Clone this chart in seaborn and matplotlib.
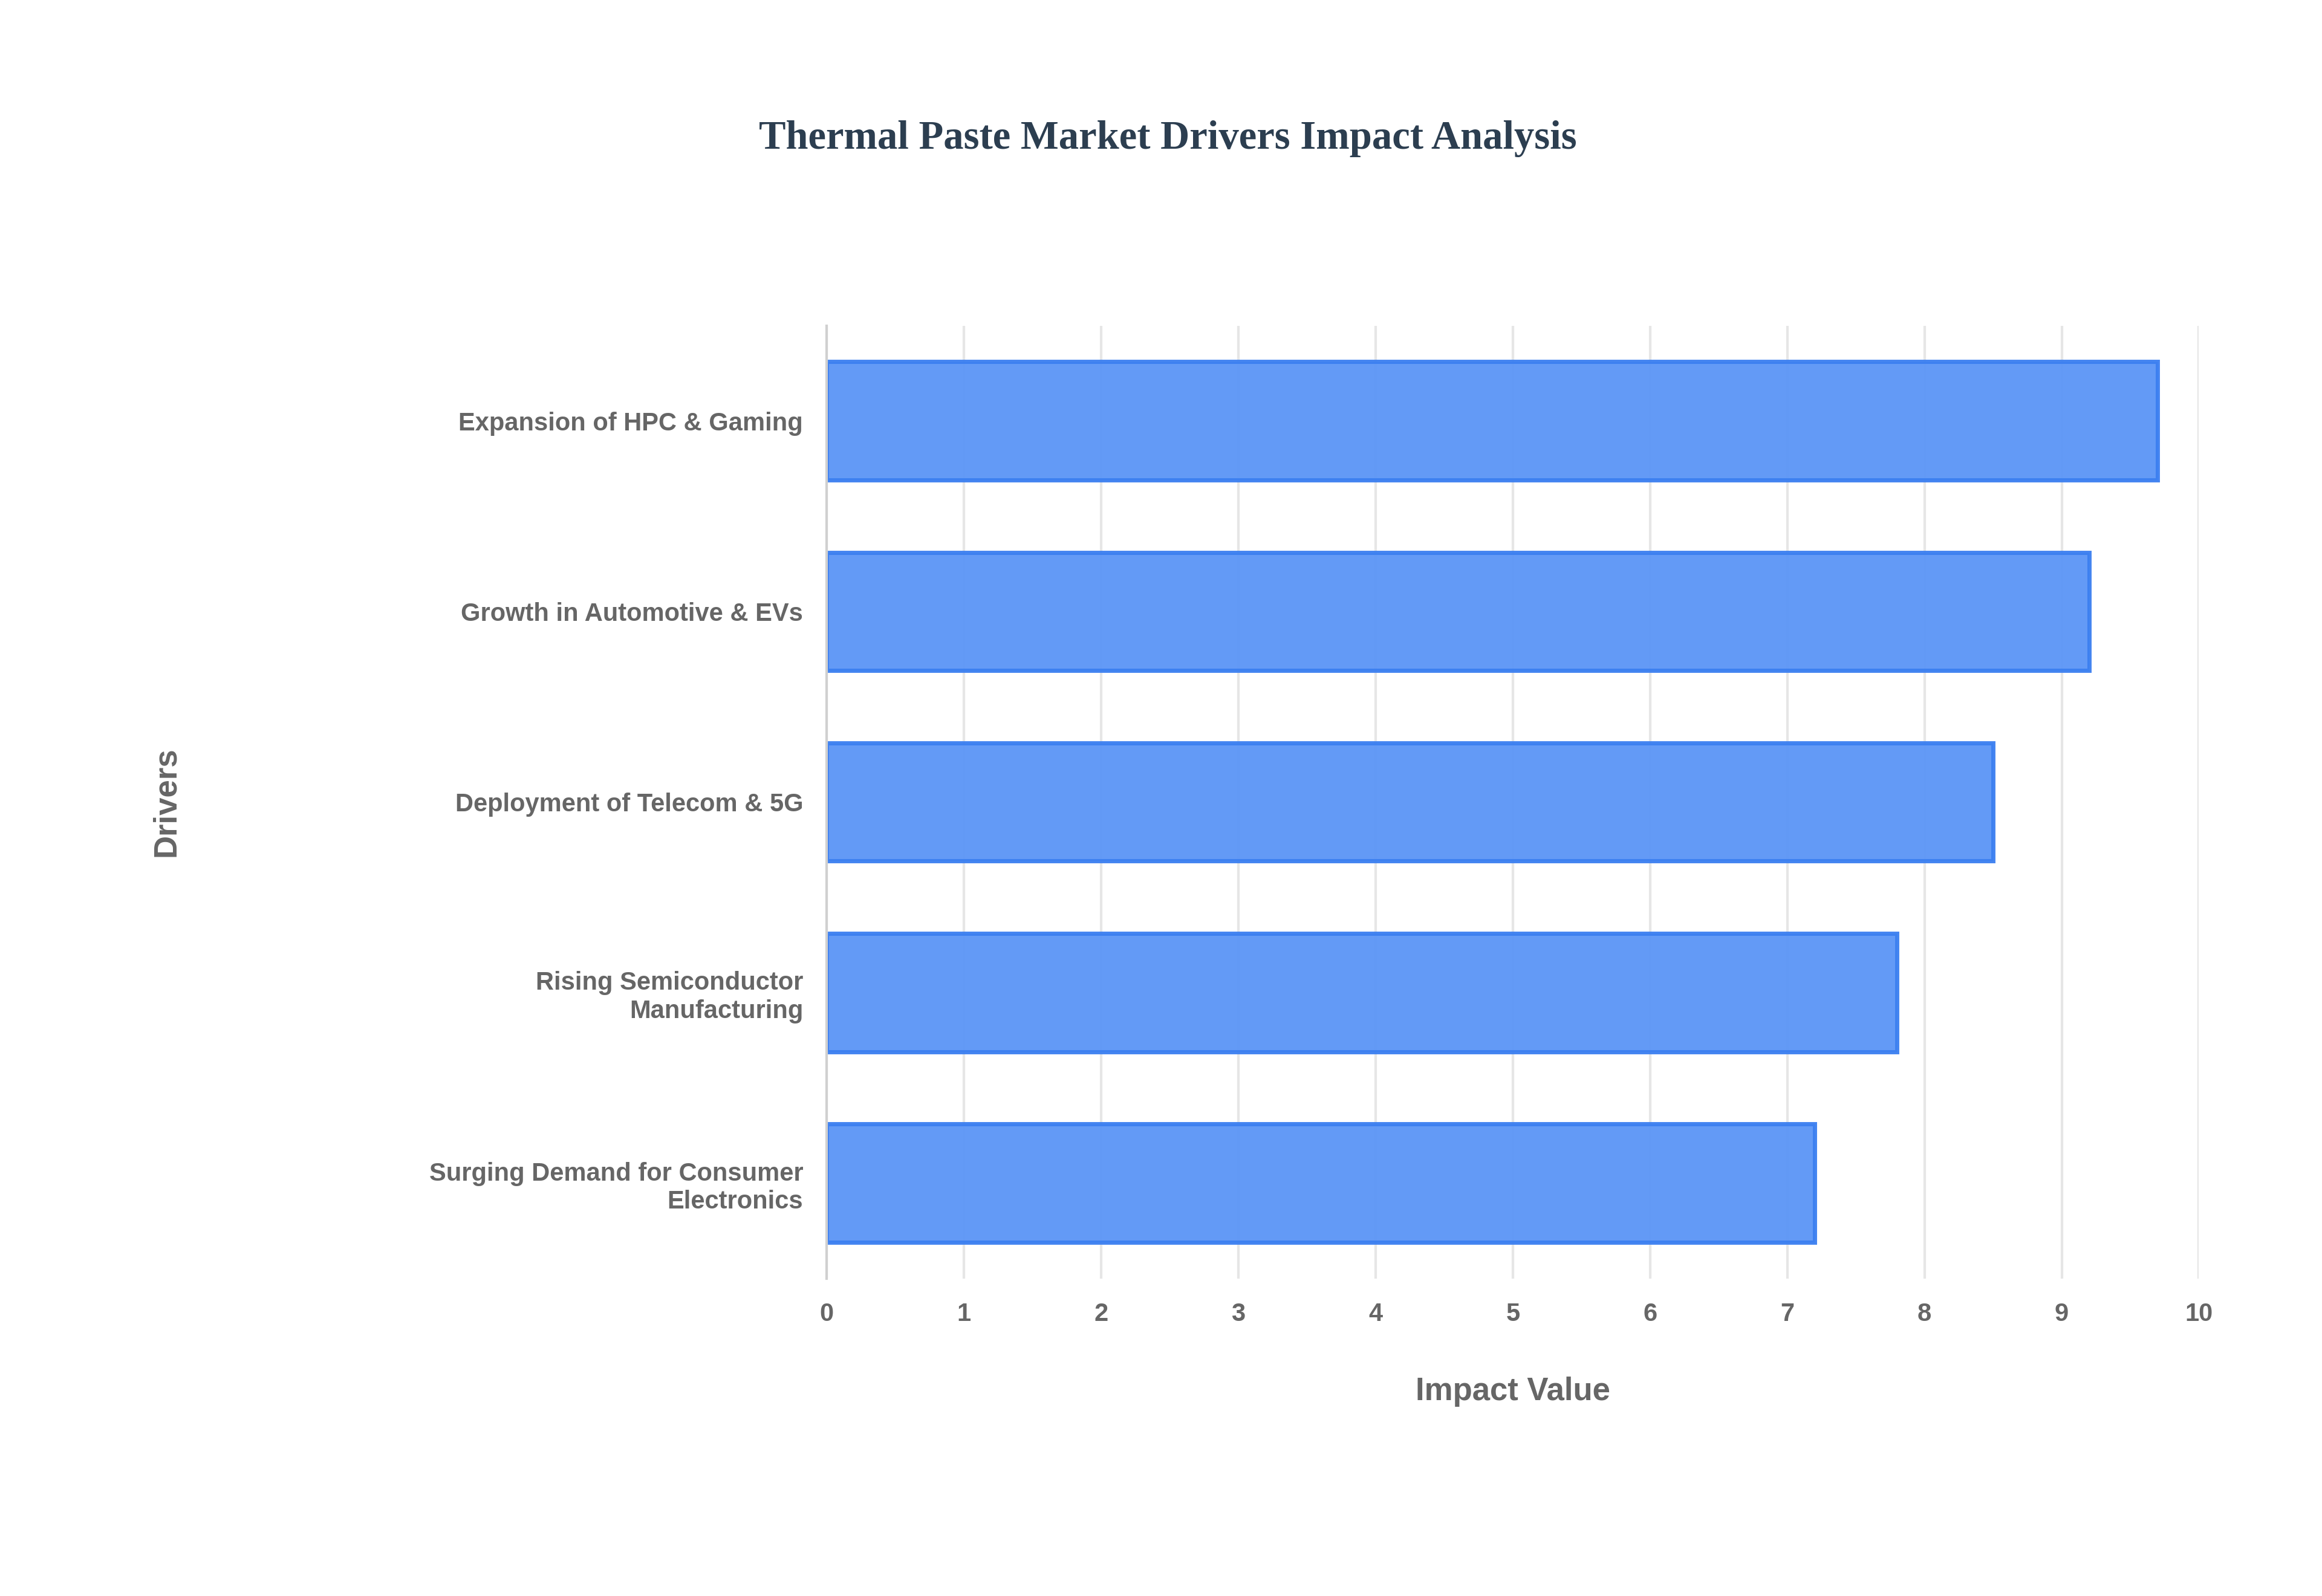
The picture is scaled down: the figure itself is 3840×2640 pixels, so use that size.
import seaborn as sns
import matplotlib.pyplot as plt
import pandas as pd

drivers = ['Expansion of HPC & Gaming', 'Growth in Automotive & EVs', 'Deployment of Telecom & 5G',
           'Rising Semiconductor\nManufacturing', 'Surging Demand for Consumer\nElectronics']
impact = [9.7, 9.2, 8.5, 7.8, 7.2]

df = pd.DataFrame({'Drivers': drivers, 'Impact Value': impact})

sns.set_style('white')
plt.rcParams['font.family'] = ['Liberation Sans', 'DejaVu Sans']

fig = plt.figure(figsize=(19.2, 13.2), dpi=200)
ax = fig.add_axes([0.356, 0.199, 0.591, 0.597])

sns.barplot(data=df, x='Impact Value', y='Drivers', ax=ax, color='#5b95f6',
            edgecolor='#3b7ff0', linewidth=2.5, width=0.62, saturation=1, alpha=0.95)

ax.set_xlim(0, 10)
ax.set_xticks(range(0, 11))
ax.grid(axis='x', color='#e6e6e6', linewidth=1.5)
ax.set_axisbelow(True)
for s in ['top', 'right', 'bottom']:
    ax.spines[s].set_visible(False)
ax.spines['left'].set_color('#d0d0d0')
ax.spines['left'].set_linewidth(1.5)
ax.tick_params(axis='x', length=0, pad=14, labelsize=15, labelcolor='#666666')
ax.tick_params(axis='y', length=0, pad=14, labelsize=15, labelcolor='#666666')
for lbl in ax.get_xticklabels() + ax.get_yticklabels():
    lbl.set_fontweight('bold')
ax.set_xlabel('Impact Value', fontsize=19, fontweight='bold', color='#666666', labelpad=30)
ax.set_ylabel('Drivers', fontsize=19, fontweight='bold', color='#666666', labelpad=30)
ax.yaxis.set_label_coords(-0.47, 0.5)

fig.text(0.503, 0.913, 'Thermal Paste Market Drivers Impact Analysis', ha='center', va='center',
         fontsize=24, fontweight='bold', color='#2c3e50', family='Liberation Serif')

fig.savefig('out.png', dpi=200, facecolor='white')
